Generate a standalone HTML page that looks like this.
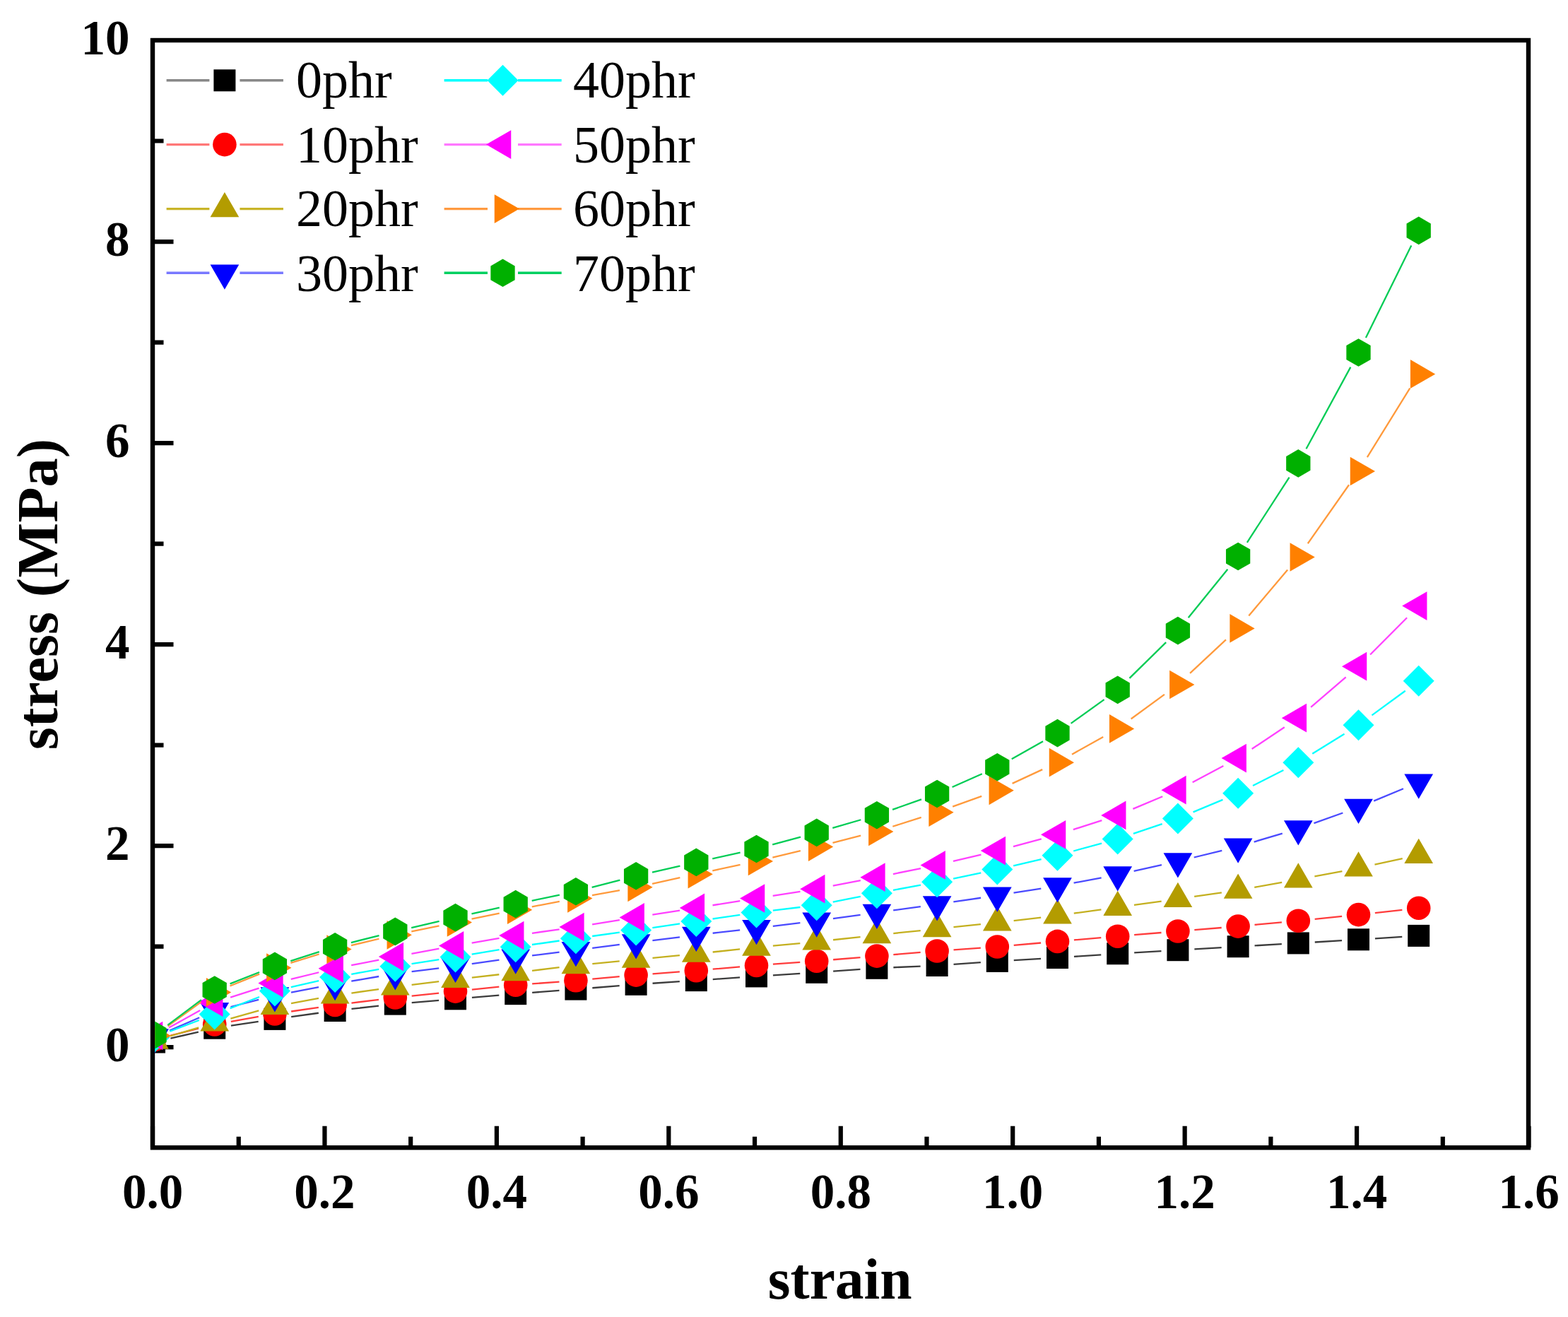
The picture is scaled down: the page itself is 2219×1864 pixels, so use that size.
<!DOCTYPE html><html><head><meta charset="utf-8"><title>stress-strain</title>
<style>html,body{margin:0;padding:0;background:#fff;}body{width:2219px;height:1864px;overflow:hidden;}svg{display:block;}text{font-family:"Liberation Serif","Times New Roman",serif;fill:#000;}</style></head><body>
<svg width="2219" height="1864" viewBox="0 0 2219 1864">
<rect x="0" y="0" width="2219" height="1864" fill="#fff"/>
<defs><clipPath id="pa"><rect x="219.2" y="60.2" width="1940.6" height="1560.8999999999999"/></clipPath></defs>
<rect x="216.0" y="57.0" width="1947.0" height="1567.3" fill="none" stroke="#000" stroke-width="6.4" stroke-linejoin="miter" stroke-linecap="square"/>
<path d="M216.00 1624.3V1593.8M337.72 1624.3V1608.8M459.44 1624.3V1593.8M581.16 1624.3V1608.8M702.88 1624.3V1593.8M824.60 1624.3V1608.8M946.32 1624.3V1593.8M1068.04 1624.3V1608.8M1189.76 1624.3V1593.8M1311.48 1624.3V1608.8M1433.20 1624.3V1593.8M1554.92 1624.3V1608.8M1676.64 1624.3V1593.8M1798.36 1624.3V1608.8M1920.08 1624.3V1593.8M2041.80 1624.3V1608.8M2163.52 1624.3V1593.8M216.0 1482.20H245.5M216.0 1339.68H231.5M216.0 1197.16H245.5M216.0 1054.64H231.5M216.0 912.12H245.5M216.0 769.60H231.5M216.0 627.08H245.5M216.0 484.56H231.5M216.0 342.04H245.5M216.0 199.52H231.5M216.0 57.00H245.5" stroke="#000" stroke-width="6.2" fill="none"/>
<g clip-path="url(#pa)">
<path d="M241.39 1469.68L280.81 1460.52M326.94 1451.71L365.66 1445.89M412.17 1439.15L450.83 1433.75M497.46 1427.92L535.94 1423.68M582.71 1419.09L621.09 1415.81M667.92 1411.82L706.28 1408.58M753.13 1404.81L791.47 1401.89M838.33 1398.23L876.67 1395.17M923.55 1391.73L961.85 1389.17M1008.75 1386.03L1047.05 1383.47M1093.95 1380.36L1132.25 1377.84M1179.14 1374.65L1217.46 1371.95M1264.38 1369.25L1302.62 1367.55M1349.54 1364.82L1387.86 1362.08M1434.76 1359.05L1473.04 1356.85M1519.95 1353.90L1558.25 1351.30M1605.16 1348.32L1643.44 1346.08M1690.36 1343.32L1728.64 1341.08M1775.56 1338.38L1813.84 1336.22M1860.76 1333.50L1899.04 1331.20M1945.95 1328.31L1984.25 1325.89" stroke="#3c3c3c" stroke-width="2.3" fill="none"/>
<rect x="203.00" y="1459.50" width="31.0" height="31.0" fill="#000000"/>
<rect x="288.20" y="1439.70" width="31.0" height="31.0" fill="#000000"/>
<rect x="373.40" y="1426.90" width="31.0" height="31.0" fill="#000000"/>
<rect x="458.60" y="1415.00" width="31.0" height="31.0" fill="#000000"/>
<rect x="543.80" y="1405.60" width="31.0" height="31.0" fill="#000000"/>
<rect x="629.00" y="1398.30" width="31.0" height="31.0" fill="#000000"/>
<rect x="714.20" y="1391.10" width="31.0" height="31.0" fill="#000000"/>
<rect x="799.40" y="1384.60" width="31.0" height="31.0" fill="#000000"/>
<rect x="884.60" y="1377.80" width="31.0" height="31.0" fill="#000000"/>
<rect x="969.80" y="1372.10" width="31.0" height="31.0" fill="#000000"/>
<rect x="1055.00" y="1366.40" width="31.0" height="31.0" fill="#000000"/>
<rect x="1140.20" y="1360.80" width="31.0" height="31.0" fill="#000000"/>
<rect x="1225.40" y="1354.80" width="31.0" height="31.0" fill="#000000"/>
<rect x="1310.60" y="1351.00" width="31.0" height="31.0" fill="#000000"/>
<rect x="1395.80" y="1344.90" width="31.0" height="31.0" fill="#000000"/>
<rect x="1481.00" y="1340.00" width="31.0" height="31.0" fill="#000000"/>
<rect x="1566.20" y="1334.20" width="31.0" height="31.0" fill="#000000"/>
<rect x="1651.40" y="1329.20" width="31.0" height="31.0" fill="#000000"/>
<rect x="1736.60" y="1324.20" width="31.0" height="31.0" fill="#000000"/>
<rect x="1821.80" y="1319.40" width="31.0" height="31.0" fill="#000000"/>
<rect x="1907.00" y="1314.30" width="31.0" height="31.0" fill="#000000"/>
<rect x="1992.20" y="1308.90" width="31.0" height="31.0" fill="#000000"/>
<path d="M241.28 1465.72L280.92 1455.68M326.84 1445.83L365.76 1438.97M412.15 1431.49L450.85 1425.81M497.43 1419.55L535.97 1414.85M582.67 1409.56L621.13 1405.54M667.87 1400.66L706.33 1396.64M753.13 1392.44L791.47 1389.56M838.30 1385.68L876.70 1382.22M923.53 1378.34L961.87 1375.46M1008.71 1371.69L1047.09 1368.41M1093.94 1364.69L1132.26 1361.91M1179.12 1358.25L1217.48 1355.05M1264.32 1351.15L1302.68 1347.95M1349.54 1344.35L1387.86 1341.65M1434.71 1337.91L1473.09 1334.49M1519.92 1330.42L1558.28 1327.18M1605.12 1323.22L1643.48 1319.98M1690.32 1316.10L1728.68 1313.00M1775.50 1308.93L1813.90 1305.37M1860.68 1300.84L1899.12 1296.96M1945.86 1292.02L1984.34 1287.78" stroke="#ff3c3c" stroke-width="2.3" fill="none"/>
<circle cx="218.50" cy="1471.50" r="16.8" fill="#ff0000"/>
<circle cx="303.70" cy="1449.90" r="16.8" fill="#ff0000"/>
<circle cx="388.90" cy="1434.90" r="16.8" fill="#ff0000"/>
<circle cx="474.10" cy="1422.40" r="16.8" fill="#ff0000"/>
<circle cx="559.30" cy="1412.00" r="16.8" fill="#ff0000"/>
<circle cx="644.50" cy="1403.10" r="16.8" fill="#ff0000"/>
<circle cx="729.70" cy="1394.20" r="16.8" fill="#ff0000"/>
<circle cx="814.90" cy="1387.80" r="16.8" fill="#ff0000"/>
<circle cx="900.10" cy="1380.10" r="16.8" fill="#ff0000"/>
<circle cx="985.30" cy="1373.70" r="16.8" fill="#ff0000"/>
<circle cx="1070.50" cy="1366.40" r="16.8" fill="#ff0000"/>
<circle cx="1155.70" cy="1360.20" r="16.8" fill="#ff0000"/>
<circle cx="1240.90" cy="1353.10" r="16.8" fill="#ff0000"/>
<circle cx="1326.10" cy="1346.00" r="16.8" fill="#ff0000"/>
<circle cx="1411.30" cy="1340.00" r="16.8" fill="#ff0000"/>
<circle cx="1496.50" cy="1332.40" r="16.8" fill="#ff0000"/>
<circle cx="1581.70" cy="1325.20" r="16.8" fill="#ff0000"/>
<circle cx="1666.90" cy="1318.00" r="16.8" fill="#ff0000"/>
<circle cx="1752.10" cy="1311.10" r="16.8" fill="#ff0000"/>
<circle cx="1837.30" cy="1303.20" r="16.8" fill="#ff0000"/>
<circle cx="1922.50" cy="1294.60" r="16.8" fill="#ff0000"/>
<circle cx="2007.70" cy="1285.20" r="16.8" fill="#ff0000"/>
<path d="M241.03 1466.33L281.17 1454.47M326.35 1441.53L366.25 1430.47M412.03 1420.02L450.97 1412.98M497.37 1405.52L536.03 1400.08M582.62 1393.93L621.18 1389.17M667.85 1383.64L706.35 1379.26M753.03 1373.81L791.57 1369.19M838.29 1364.12L876.71 1360.38M923.49 1355.88L961.91 1352.22M1008.67 1347.50L1047.13 1343.40M1093.89 1338.68L1132.31 1335.02M1179.06 1330.25L1217.54 1326.05M1264.27 1321.06L1302.73 1317.04M1349.48 1312.19L1387.92 1308.21M1434.64 1303.06L1473.16 1298.54M1519.79 1292.63L1558.41 1287.37M1604.97 1280.95L1643.63 1275.55M1690.16 1268.94L1728.84 1263.36M1775.23 1255.87L1814.17 1248.93M1860.39 1240.44L1899.41 1233.06M1945.46 1223.71L1984.74 1215.19" stroke="#c4b020" stroke-width="2.3" fill="none"/>
<polygon points="218.50,1449.50 238.85,1484.75 198.15,1484.75" fill="#b39c00"/>
<polygon points="303.70,1424.30 324.05,1459.55 283.35,1459.55" fill="#b39c00"/>
<polygon points="388.90,1400.70 409.25,1435.95 368.55,1435.95" fill="#b39c00"/>
<polygon points="474.10,1385.30 494.45,1420.55 453.75,1420.55" fill="#b39c00"/>
<polygon points="559.30,1373.30 579.65,1408.55 538.95,1408.55" fill="#b39c00"/>
<polygon points="644.50,1362.80 664.85,1398.05 624.15,1398.05" fill="#b39c00"/>
<polygon points="729.70,1353.10 750.05,1388.35 709.35,1388.35" fill="#b39c00"/>
<polygon points="814.90,1342.90 835.25,1378.15 794.55,1378.15" fill="#b39c00"/>
<polygon points="900.10,1334.60 920.45,1369.85 879.75,1369.85" fill="#b39c00"/>
<polygon points="985.30,1326.50 1005.65,1361.75 964.95,1361.75" fill="#b39c00"/>
<polygon points="1070.50,1317.40 1090.85,1352.65 1050.15,1352.65" fill="#b39c00"/>
<polygon points="1155.70,1309.30 1176.05,1344.55 1135.35,1344.55" fill="#b39c00"/>
<polygon points="1240.90,1300.00 1261.25,1335.25 1220.55,1335.25" fill="#b39c00"/>
<polygon points="1326.10,1291.10 1346.45,1326.35 1305.75,1326.35" fill="#b39c00"/>
<polygon points="1411.30,1282.30 1431.65,1317.55 1390.95,1317.55" fill="#b39c00"/>
<polygon points="1496.50,1272.30 1516.85,1307.55 1476.15,1307.55" fill="#b39c00"/>
<polygon points="1581.70,1260.70 1602.05,1295.95 1561.35,1295.95" fill="#b39c00"/>
<polygon points="1666.90,1248.80 1687.25,1284.05 1646.55,1284.05" fill="#b39c00"/>
<polygon points="1752.10,1236.50 1772.45,1271.75 1731.75,1271.75" fill="#b39c00"/>
<polygon points="1837.30,1221.30 1857.65,1256.55 1816.95,1256.55" fill="#b39c00"/>
<polygon points="1922.50,1205.20 1942.85,1240.45 1902.15,1240.45" fill="#b39c00"/>
<polygon points="2007.70,1186.70 2028.05,1221.95 1987.35,1221.95" fill="#b39c00"/>
<path d="M240.04 1458.60L282.16 1440.20M326.47 1425.00L366.13 1414.90M411.98 1404.66L451.02 1397.14M497.26 1388.70L536.14 1382.00M582.62 1375.13L621.18 1370.37M667.76 1364.17L706.44 1358.63M753.02 1352.43L791.58 1347.67M838.21 1341.84L876.79 1336.96M923.42 1331.10L961.98 1326.30M1008.65 1320.74L1047.15 1316.36M1093.82 1310.83L1132.38 1306.07M1178.99 1300.03L1217.61 1294.77M1264.18 1288.40L1302.82 1283.10M1349.35 1276.46L1388.05 1270.74M1434.52 1263.68L1473.28 1257.62M1519.59 1249.64L1558.61 1242.26M1604.65 1232.84L1643.95 1224.16M1689.72 1213.50L1729.28 1203.80M1774.63 1191.53L1814.77 1179.67M1859.43 1165.10L1900.37 1150.50M1944.20 1133.58L1986.00 1116.22" stroke="#4a4aff" stroke-width="2.3" fill="none"/>
<polygon points="218.50,1491.50 238.85,1456.25 198.15,1456.25" fill="#0000ff"/>
<polygon points="303.70,1454.30 324.05,1419.05 283.35,1419.05" fill="#0000ff"/>
<polygon points="388.90,1432.60 409.25,1397.35 368.55,1397.35" fill="#0000ff"/>
<polygon points="474.10,1416.20 494.45,1380.95 453.75,1380.95" fill="#0000ff"/>
<polygon points="559.30,1401.50 579.65,1366.25 538.95,1366.25" fill="#0000ff"/>
<polygon points="644.50,1391.00 664.85,1355.75 624.15,1355.75" fill="#0000ff"/>
<polygon points="729.70,1378.80 750.05,1343.55 709.35,1343.55" fill="#0000ff"/>
<polygon points="814.90,1368.30 835.25,1333.05 794.55,1333.05" fill="#0000ff"/>
<polygon points="900.10,1357.50 920.45,1322.25 879.75,1322.25" fill="#0000ff"/>
<polygon points="985.30,1346.90 1005.65,1311.65 964.95,1311.65" fill="#0000ff"/>
<polygon points="1070.50,1337.20 1090.85,1301.95 1050.15,1301.95" fill="#0000ff"/>
<polygon points="1155.70,1326.70 1176.05,1291.45 1135.35,1291.45" fill="#0000ff"/>
<polygon points="1240.90,1315.10 1261.25,1279.85 1220.55,1279.85" fill="#0000ff"/>
<polygon points="1326.10,1303.40 1346.45,1268.15 1305.75,1268.15" fill="#0000ff"/>
<polygon points="1411.30,1290.80 1431.65,1255.55 1390.95,1255.55" fill="#0000ff"/>
<polygon points="1496.50,1277.50 1516.85,1242.25 1476.15,1242.25" fill="#0000ff"/>
<polygon points="1581.70,1261.40 1602.05,1226.15 1561.35,1226.15" fill="#0000ff"/>
<polygon points="1666.90,1242.60 1687.25,1207.35 1646.55,1207.35" fill="#0000ff"/>
<polygon points="1752.10,1221.70 1772.45,1186.45 1731.75,1186.45" fill="#0000ff"/>
<polygon points="1837.30,1196.50 1857.65,1161.25 1816.95,1161.25" fill="#0000ff"/>
<polygon points="1922.50,1166.10 1942.85,1130.85 1902.15,1130.85" fill="#0000ff"/>
<polygon points="2007.70,1130.70 2028.05,1095.45 1987.35,1095.45" fill="#0000ff"/>
<path d="M240.47 1459.65L281.73 1443.95M325.61 1427.09L366.99 1411.01M411.80 1397.23L451.20 1388.17M497.24 1378.80L536.16 1371.90M582.52 1364.18L621.28 1358.12M667.68 1350.64L706.52 1344.16M752.97 1337.00L791.63 1331.50M838.18 1325.00L876.82 1319.70M923.35 1313.06L962.05 1307.34M1008.55 1300.49L1047.25 1294.81M1093.83 1288.61L1132.37 1283.99M1178.75 1276.60L1217.85 1268.80M1264.00 1259.89L1303.00 1252.61M1349.11 1243.52L1388.29 1235.38M1434.18 1225.26L1473.62 1216.04M1519.17 1204.50L1559.03 1193.60M1603.95 1179.85L1644.65 1166.05M1688.57 1149.42L1730.43 1131.88M1773.02 1112.09L1816.38 1089.91M1857.26 1066.80L1902.54 1038.70M1941.45 1012.40L1988.75 977.70" stroke="#00ffff" stroke-width="2.3" fill="none"/>
<polygon points="218.50,1446.00 240.50,1468.00 218.50,1490.00 196.50,1468.00" fill="#00ffff"/>
<polygon points="303.70,1413.60 325.70,1435.60 303.70,1457.60 281.70,1435.60" fill="#00ffff"/>
<polygon points="388.90,1380.50 410.90,1402.50 388.90,1424.50 366.90,1402.50" fill="#00ffff"/>
<polygon points="474.10,1360.90 496.10,1382.90 474.10,1404.90 452.10,1382.90" fill="#00ffff"/>
<polygon points="559.30,1345.80 581.30,1367.80 559.30,1389.80 537.30,1367.80" fill="#00ffff"/>
<polygon points="644.50,1332.50 666.50,1354.50 644.50,1376.50 622.50,1354.50" fill="#00ffff"/>
<polygon points="729.70,1318.30 751.70,1340.30 729.70,1362.30 707.70,1340.30" fill="#00ffff"/>
<polygon points="814.90,1306.20 836.90,1328.20 814.90,1350.20 792.90,1328.20" fill="#00ffff"/>
<polygon points="900.10,1294.50 922.10,1316.50 900.10,1338.50 878.10,1316.50" fill="#00ffff"/>
<polygon points="985.30,1281.90 1007.30,1303.90 985.30,1325.90 963.30,1303.90" fill="#00ffff"/>
<polygon points="1070.50,1269.40 1092.50,1291.40 1070.50,1313.40 1048.50,1291.40" fill="#00ffff"/>
<polygon points="1155.70,1259.20 1177.70,1281.20 1155.70,1303.20 1133.70,1281.20" fill="#00ffff"/>
<polygon points="1240.90,1242.20 1262.90,1264.20 1240.90,1286.20 1218.90,1264.20" fill="#00ffff"/>
<polygon points="1326.10,1226.30 1348.10,1248.30 1326.10,1270.30 1304.10,1248.30" fill="#00ffff"/>
<polygon points="1411.30,1208.60 1433.30,1230.60 1411.30,1252.60 1389.30,1230.60" fill="#00ffff"/>
<polygon points="1496.50,1188.70 1518.50,1210.70 1496.50,1232.70 1474.50,1210.70" fill="#00ffff"/>
<polygon points="1581.70,1165.40 1603.70,1187.40 1581.70,1209.40 1559.70,1187.40" fill="#00ffff"/>
<polygon points="1666.90,1136.50 1688.90,1158.50 1666.90,1180.50 1644.90,1158.50" fill="#00ffff"/>
<polygon points="1752.10,1100.80 1774.10,1122.80 1752.10,1144.80 1730.10,1122.80" fill="#00ffff"/>
<polygon points="1837.30,1057.20 1859.30,1079.20 1837.30,1101.20 1815.30,1079.20" fill="#00ffff"/>
<polygon points="1922.50,1004.30 1944.50,1026.30 1922.50,1048.30 1900.50,1026.30" fill="#00ffff"/>
<polygon points="2007.70,941.80 2029.70,963.80 2007.70,985.80 1985.70,963.80" fill="#00ffff"/>
<path d="M239.05 1454.59L283.15 1430.11M326.08 1411.53L366.52 1398.57M411.74 1385.85L451.26 1376.25M497.17 1366.21L536.23 1358.59M582.41 1349.84L621.39 1342.66M667.68 1334.51L706.52 1327.99M752.97 1320.80L791.63 1315.30M838.11 1308.30L876.89 1302.10M923.31 1294.72L962.09 1288.58M1008.51 1281.25L1047.29 1275.15M1093.72 1267.88L1132.48 1261.82M1178.77 1253.73L1217.83 1246.17M1263.93 1237.02L1303.07 1229.08M1348.96 1218.95L1388.44 1209.55M1434.00 1198.03L1473.80 1187.37M1518.87 1174.11L1559.33 1161.09M1603.37 1144.82L1645.23 1127.28M1687.67 1107.21L1731.33 1084.09M1771.64 1060.05L1817.76 1029.25M1855.15 1000.91L1904.65 958.49M1939.08 926.54L1991.12 874.26" stroke="#ff40ff" stroke-width="2.3" fill="none"/>
<polygon points="195.00,1466.00 230.25,1445.65 230.25,1486.35" fill="#ff00ff"/>
<polygon points="280.20,1418.70 315.45,1398.35 315.45,1439.05" fill="#ff00ff"/>
<polygon points="365.40,1391.40 400.65,1371.05 400.65,1411.75" fill="#ff00ff"/>
<polygon points="450.60,1370.70 485.85,1350.35 485.85,1391.05" fill="#ff00ff"/>
<polygon points="535.80,1354.10 571.05,1333.75 571.05,1374.45" fill="#ff00ff"/>
<polygon points="621.00,1338.40 656.25,1318.05 656.25,1358.75" fill="#ff00ff"/>
<polygon points="706.20,1324.10 741.45,1303.75 741.45,1344.45" fill="#ff00ff"/>
<polygon points="791.40,1312.00 826.65,1291.65 826.65,1332.35" fill="#ff00ff"/>
<polygon points="876.60,1298.40 911.85,1278.05 911.85,1318.75" fill="#ff00ff"/>
<polygon points="961.80,1284.90 997.05,1264.55 997.05,1305.25" fill="#ff00ff"/>
<polygon points="1047.00,1271.50 1082.25,1251.15 1082.25,1291.85" fill="#ff00ff"/>
<polygon points="1132.20,1258.20 1167.45,1237.85 1167.45,1278.55" fill="#ff00ff"/>
<polygon points="1217.40,1241.70 1252.65,1221.35 1252.65,1262.05" fill="#ff00ff"/>
<polygon points="1302.60,1224.40 1337.85,1204.05 1337.85,1244.75" fill="#ff00ff"/>
<polygon points="1387.80,1204.10 1423.05,1183.75 1423.05,1224.45" fill="#ff00ff"/>
<polygon points="1473.00,1181.30 1508.25,1160.95 1508.25,1201.65" fill="#ff00ff"/>
<polygon points="1558.20,1153.90 1593.45,1133.55 1593.45,1174.25" fill="#ff00ff"/>
<polygon points="1643.40,1118.20 1678.65,1097.85 1678.65,1138.55" fill="#ff00ff"/>
<polygon points="1728.60,1073.10 1763.85,1052.75 1763.85,1093.45" fill="#ff00ff"/>
<polygon points="1813.80,1016.20 1849.05,995.85 1849.05,1036.55" fill="#ff00ff"/>
<polygon points="1899.00,943.20 1934.25,922.85 1934.25,963.55" fill="#ff00ff"/>
<polygon points="1984.20,857.60 2019.45,837.25 2019.45,877.95" fill="#ff00ff"/>
<path d="M237.54 1452.23L284.66 1418.17M325.46 1395.54L367.14 1378.56M411.37 1362.82L451.63 1350.48M496.96 1338.15L536.44 1328.75M582.30 1318.49L621.50 1310.31M667.50 1300.69L706.70 1292.51M752.79 1283.31L791.81 1275.89M838.01 1267.24L876.99 1260.06M923.06 1250.79L962.34 1242.21M1008.28 1232.29L1047.52 1223.91M1093.35 1213.53L1132.85 1204.07M1178.47 1192.80L1218.13 1182.70M1263.29 1169.75L1303.71 1156.85M1348.19 1141.69L1389.21 1126.81M1432.61 1108.90L1475.19 1089.10M1516.99 1067.70L1561.21 1042.90M1600.66 1017.51L1647.94 982.89M1684.07 952.96L1734.93 905.44M1767.26 871.44L1822.14 806.46M1850.79 769.26L1909.01 686.24M1934.87 647.02L1995.33 549.38" stroke="#ff9a3c" stroke-width="2.3" fill="none"/>
<polygon points="242.00,1466.00 206.75,1445.65 206.75,1486.35" fill="#ff8000"/>
<polygon points="327.20,1404.40 291.95,1384.05 291.95,1424.75" fill="#ff8000"/>
<polygon points="412.40,1369.70 377.15,1349.35 377.15,1390.05" fill="#ff8000"/>
<polygon points="497.60,1343.60 462.35,1323.25 462.35,1363.95" fill="#ff8000"/>
<polygon points="582.80,1323.30 547.55,1302.95 547.55,1343.65" fill="#ff8000"/>
<polygon points="668.00,1305.50 632.75,1285.15 632.75,1325.85" fill="#ff8000"/>
<polygon points="753.20,1287.70 717.95,1267.35 717.95,1308.05" fill="#ff8000"/>
<polygon points="838.40,1271.50 803.15,1251.15 803.15,1291.85" fill="#ff8000"/>
<polygon points="923.60,1255.80 888.35,1235.45 888.35,1276.15" fill="#ff8000"/>
<polygon points="1008.80,1237.20 973.55,1216.85 973.55,1257.55" fill="#ff8000"/>
<polygon points="1094.00,1219.00 1058.75,1198.65 1058.75,1239.35" fill="#ff8000"/>
<polygon points="1179.20,1198.60 1143.95,1178.25 1143.95,1218.95" fill="#ff8000"/>
<polygon points="1264.40,1176.90 1229.15,1156.55 1229.15,1197.25" fill="#ff8000"/>
<polygon points="1349.60,1149.70 1314.35,1129.35 1314.35,1170.05" fill="#ff8000"/>
<polygon points="1434.80,1118.80 1399.55,1098.45 1399.55,1139.15" fill="#ff8000"/>
<polygon points="1520.00,1079.20 1484.75,1058.85 1484.75,1099.55" fill="#ff8000"/>
<polygon points="1605.20,1031.40 1569.95,1011.05 1569.95,1051.75" fill="#ff8000"/>
<polygon points="1690.40,969.00 1655.15,948.65 1655.15,989.35" fill="#ff8000"/>
<polygon points="1775.60,889.40 1740.35,869.05 1740.35,909.75" fill="#ff8000"/>
<polygon points="1860.80,788.50 1825.55,768.15 1825.55,808.85" fill="#ff8000"/>
<polygon points="1946.00,667.00 1910.75,646.65 1910.75,687.35" fill="#ff8000"/>
<polygon points="2031.20,529.40 1995.95,509.05 1995.95,549.75" fill="#ff8000"/>
<path d="M237.29 1450.89L284.91 1415.11M325.56 1392.38L367.04 1376.02M411.26 1360.16L451.74 1347.04M496.89 1334.08L536.51 1324.12M582.19 1313.08L621.61 1303.92M667.44 1293.49L706.76 1284.71M752.70 1274.79L791.90 1266.61M837.65 1255.92L877.35 1245.68M923.01 1234.58L962.39 1225.62M1008.24 1215.31L1047.56 1206.59M1093.18 1195.35L1133.02 1184.55M1178.27 1171.86L1218.33 1160.24M1263.05 1145.85L1303.95 1131.35M1347.58 1113.97L1389.82 1095.23M1431.76 1074.15L1476.04 1049.15M1515.59 1023.89L1562.61 990.11M1598.45 959.92L1650.15 909.08M1681.70 874.34L1737.30 805.76M1764.87 767.77L1824.53 675.63M1848.51 635.25L1911.29 519.65M1932.90 477.93L1997.30 347.47" stroke="#00cc55" stroke-width="2.3" fill="none"/>
<polygon points="218.50,1445.20 235.65,1455.10 235.65,1474.90 218.50,1484.80 201.35,1474.90 201.35,1455.10" fill="#00b000"/>
<polygon points="303.70,1381.20 320.85,1391.10 320.85,1410.90 303.70,1420.80 286.55,1410.90 286.55,1391.10" fill="#00b000"/>
<polygon points="388.90,1347.60 406.05,1357.50 406.05,1377.30 388.90,1387.20 371.75,1377.30 371.75,1357.50" fill="#00b000"/>
<polygon points="474.10,1320.00 491.25,1329.90 491.25,1349.70 474.10,1359.60 456.95,1349.70 456.95,1329.90" fill="#00b000"/>
<polygon points="559.30,1298.60 576.45,1308.50 576.45,1328.30 559.30,1338.20 542.15,1328.30 542.15,1308.50" fill="#00b000"/>
<polygon points="644.50,1278.80 661.65,1288.70 661.65,1308.50 644.50,1318.40 627.35,1308.50 627.35,1288.70" fill="#00b000"/>
<polygon points="729.70,1259.80 746.85,1269.70 746.85,1289.50 729.70,1299.40 712.55,1289.50 712.55,1269.70" fill="#00b000"/>
<polygon points="814.90,1242.00 832.05,1251.90 832.05,1271.70 814.90,1281.60 797.75,1271.70 797.75,1251.90" fill="#00b000"/>
<polygon points="900.10,1220.00 917.25,1229.90 917.25,1249.70 900.10,1259.60 882.95,1249.70 882.95,1229.90" fill="#00b000"/>
<polygon points="985.30,1200.60 1002.45,1210.50 1002.45,1230.30 985.30,1240.20 968.15,1230.30 968.15,1210.50" fill="#00b000"/>
<polygon points="1070.50,1181.70 1087.65,1191.60 1087.65,1211.40 1070.50,1221.30 1053.35,1211.40 1053.35,1191.60" fill="#00b000"/>
<polygon points="1155.70,1158.60 1172.85,1168.50 1172.85,1188.30 1155.70,1198.20 1138.55,1188.30 1138.55,1168.50" fill="#00b000"/>
<polygon points="1240.90,1133.90 1258.05,1143.80 1258.05,1163.60 1240.90,1173.50 1223.75,1163.60 1223.75,1143.80" fill="#00b000"/>
<polygon points="1326.10,1103.70 1343.25,1113.60 1343.25,1133.40 1326.10,1143.30 1308.95,1133.40 1308.95,1113.60" fill="#00b000"/>
<polygon points="1411.30,1065.90 1428.45,1075.80 1428.45,1095.60 1411.30,1105.50 1394.15,1095.60 1394.15,1075.80" fill="#00b000"/>
<polygon points="1496.50,1017.80 1513.65,1027.70 1513.65,1047.50 1496.50,1057.40 1479.35,1047.50 1479.35,1027.70" fill="#00b000"/>
<polygon points="1581.70,956.60 1598.85,966.50 1598.85,986.30 1581.70,996.20 1564.55,986.30 1564.55,966.50" fill="#00b000"/>
<polygon points="1666.90,872.80 1684.05,882.70 1684.05,902.50 1666.90,912.40 1649.75,902.50 1649.75,882.70" fill="#00b000"/>
<polygon points="1752.10,767.70 1769.25,777.60 1769.25,797.40 1752.10,807.30 1734.95,797.40 1734.95,777.60" fill="#00b000"/>
<polygon points="1837.30,636.10 1854.45,646.00 1854.45,665.80 1837.30,675.70 1820.15,665.80 1820.15,646.00" fill="#00b000"/>
<polygon points="1922.50,479.20 1939.65,489.10 1939.65,508.90 1922.50,518.80 1905.35,508.90 1905.35,489.10" fill="#00b000"/>
<polygon points="2007.70,306.60 2024.85,316.50 2024.85,336.30 2007.70,346.20 1990.55,336.30 1990.55,316.50" fill="#00b000"/>
</g>
<path d="M235.6 113.8H296.4M339.4 113.8H400.9" stroke="#888888" stroke-width="3.4" fill="none"/>
<rect x="302.40" y="98.30" width="31.0" height="31.0" fill="#000000"/>
<text x="419.0" y="138.1" font-size="74">0phr</text>
<path d="M235.6 204.6H296.4M339.4 204.6H400.9" stroke="#ff7878" stroke-width="3.4" fill="none"/>
<circle cx="317.90" cy="204.60" r="16.8" fill="#ff0000"/>
<text x="419.0" y="229.6" font-size="74">10phr</text>
<path d="M235.6 295.6H296.4M339.4 295.6H400.9" stroke="#c8b428" stroke-width="3.4" fill="none"/>
<polygon points="317.90,272.10 338.25,307.35 297.55,307.35" fill="#b39c00"/>
<text x="419.0" y="320.4" font-size="74">20phr</text>
<path d="M235.6 386.3H296.4M339.4 386.3H400.9" stroke="#7878ff" stroke-width="3.4" fill="none"/>
<polygon points="317.90,409.80 338.25,374.55 297.55,374.55" fill="#0000ff"/>
<text x="419.0" y="411.6" font-size="74">30phr</text>
<path d="M628.6 113.8H690.0M733.0 113.8H794.7" stroke="#00ffff" stroke-width="3.4" fill="none"/>
<polygon points="711.50,91.80 733.50,113.80 711.50,135.80 689.50,113.80" fill="#00ffff"/>
<text x="811.1" y="138.1" font-size="74">40phr</text>
<path d="M628.6 204.6H690.0M733.0 204.6H794.7" stroke="#ff78ff" stroke-width="3.4" fill="none"/>
<polygon points="688.00,204.60 723.25,184.25 723.25,224.95" fill="#ff00ff"/>
<text x="811.1" y="229.6" font-size="74">50phr</text>
<path d="M628.6 295.6H690.0M733.0 295.6H794.7" stroke="#ff9a40" stroke-width="3.4" fill="none"/>
<polygon points="735.00,295.60 699.75,275.25 699.75,315.95" fill="#ff8000"/>
<text x="811.1" y="320.4" font-size="74">60phr</text>
<path d="M628.6 386.3H690.0M733.0 386.3H794.7" stroke="#00d060" stroke-width="3.4" fill="none"/>
<polygon points="711.50,366.50 728.65,376.40 728.65,396.20 711.50,406.10 694.35,396.20 694.35,376.40" fill="#00b000"/>
<text x="811.1" y="411.6" font-size="74">70phr</text>
<text x="216.00" y="1710" font-size="69" font-weight="bold" text-anchor="middle">0.0</text>
<text x="459.44" y="1710" font-size="69" font-weight="bold" text-anchor="middle">0.2</text>
<text x="702.88" y="1710" font-size="69" font-weight="bold" text-anchor="middle">0.4</text>
<text x="946.32" y="1710" font-size="69" font-weight="bold" text-anchor="middle">0.6</text>
<text x="1189.76" y="1710" font-size="69" font-weight="bold" text-anchor="middle">0.8</text>
<text x="1433.20" y="1710" font-size="69" font-weight="bold" text-anchor="middle">1.0</text>
<text x="1676.64" y="1710" font-size="69" font-weight="bold" text-anchor="middle">1.2</text>
<text x="1920.08" y="1710" font-size="69" font-weight="bold" text-anchor="middle">1.4</text>
<text x="2163.52" y="1710" font-size="69" font-weight="bold" text-anchor="middle">1.6</text>
<text x="183.6" y="1501.80" font-size="69" font-weight="bold" text-anchor="end">0</text>
<text x="183.6" y="1216.76" font-size="69" font-weight="bold" text-anchor="end">2</text>
<text x="183.6" y="931.72" font-size="69" font-weight="bold" text-anchor="end">4</text>
<text x="183.6" y="646.68" font-size="69" font-weight="bold" text-anchor="end">6</text>
<text x="183.6" y="361.64" font-size="69" font-weight="bold" text-anchor="end">8</text>
<text x="183.6" y="76.60" font-size="69" font-weight="bold" text-anchor="end">10</text>
<text x="1188.7" y="1837.8" font-size="81.5" font-weight="bold" text-anchor="middle">strain</text>
<text transform="translate(80.5 841) rotate(-90)" font-size="82.5" font-weight="bold" text-anchor="middle">stress (MPa)</text>
</svg></body></html>
